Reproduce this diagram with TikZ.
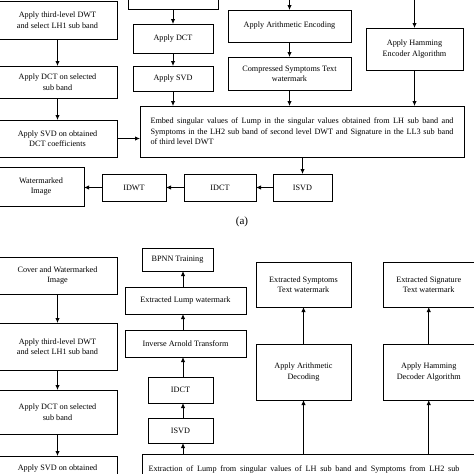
\documentclass[tikz,border=0pt]{standalone}
\usepackage{fontspec}
\setmainfont{Liberation Serif}
\usetikzlibrary{arrows.meta,calc}
\tikzset{
  box/.style={draw,line width=0.9pt,inner sep=0pt,outer sep=0pt,align=center,
    font=\fontsize{8.2}{10.5}\selectfont},
  arr/.style={line width=0.9pt,-{Latex[length=5pt,width=4.5pt]}}
}
\newcommand\bx[6]{%
  \pgfmathsetmacro\bxcx{(#2+#4)/2}\pgfmathsetmacro\bxcy{(#3+#5)/2}%
  \pgfmathsetmacro\bxw{#4-#2}\pgfmathsetmacro\bxh{#5-#3}%
  \node[box,minimum width=\bxw pt,minimum height=\bxh pt] (#1) at (\bxcx,\bxcy) {#6};}
\begin{document}
\begin{tikzpicture}[x=1pt,y=-1pt]
\useasboundingbox (0,0) rectangle (474,474);
\clip (0,0) rectangle (474,474);
\fill[white] (0,0) rectangle (474,474);
% ---------- part (a) ----------
\bx{A1}{-2}{1}{117}{39}{Apply third-level DWT\\and select LH1 sub band}
\bx{A2}{-2}{66}{117}{98}{Apply DCT on selected\\sub band}
\bx{A3}{-2}{120}{117}{157}{Apply SVD on obtained\\DCT coefficients}
\bx{M0}{128}{-10}{218}{9}{}
\bx{M1}{133}{24}{213}{53}{Apply DCT}
\bx{M2}{133}{66}{213}{91}{Apply SVD}
\bx{R1}{228}{10}{351}{42}{Apply Arithmetic Encoding}
\bx{R2}{228}{57}{351}{90}{Compressed Symptoms Text\\watermark}
\bx{H1}{366}{28}{463}{70}{Apply Hamming\\Encoder Algorithm}
\coordinate (rtop) at (289.5,-2);
\coordinate (htop) at (414.5,-2);
\node[box,minimum width=324pt,minimum height=51pt,text width=303pt,align=justify] (E) at (302,131.5)
  {Embed singular values of Lump in the singular values obtained from LH sub band and\linebreak
   Symptoms in the LH2 sub band of second level DWT and Signature in the LL3 sub band\linebreak
   of third level DWT};
\bx{ISVD}{273}{174}{332}{201}{ISVD}
\bx{IDCT}{184}{174}{256}{201}{IDCT}
\bx{IDWT}{102}{174}{166}{201}{IDWT}
\bx{WI}{-2}{167}{84}{206}{Watermarked\\Image}
\node[font=\fontsize{11}{13}\selectfont] (cap) at (242,222) {(a)};

\draw[arr] (A1.south) -- (A2.north);
\draw[arr] (A2.south) -- (A3.north);
\draw[arr] (A3.east) -- (A3.east -| E.west);
\draw[arr] (M0.south) -- (M1.north);
\draw[arr] (M1.south) -- (M2.north);
\draw[arr] (M2.south) -- (M2.south |- E.north);
\draw[arr] (rtop) -- (R1.north);
\draw[arr] (R1.south) -- (R2.north);
\draw[arr] (R2.south) -- (R2.south |- E.north);
\draw[arr] (htop) -- (H1.north);
\draw[arr] (H1.south) -- (H1.south |- E.north);
\draw[arr] (ISVD.north |- E.south) -- (ISVD.north);
\draw[arr] (ISVD.west) -- (IDCT.east);
\draw[arr] (IDCT.west) -- (IDWT.east);
\draw[arr] (IDWT.west) -- (IDWT.west -| WI.east);
% ---------- part (b) ----------
\bx{B1}{-2}{257}{117}{294}{Cover and Watermarked\\Image}
\bx{B2}{-2}{323}{117}{370}{Apply third-level DWT\\and select LH1 sub band}
\bx{B3}{-2}{390}{117}{434}{Apply DCT on selected\\sub band}
\bx{B4}{-2}{456}{117}{482}{Apply SVD on obtained}
\bx{BP}{142}{248}{213}{271}{BPNN Training}
\bx{EL}{125}{287}{246}{314}{Extracted Lump watermark}
\bx{IA}{125}{330}{246}{357}{Inverse Arnold Transform}
\bx{ID}{148}{377}{213}{403}{IDCT}
\bx{IS}{148}{418}{213}{443}{ISVD}
\bx{EX}{142}{454}{480}{484}{\hbox to 311pt{Extraction of Lump from singular values of LH sub band and Symptoms from LH2 sub}\hspace*{14pt}}
\bx{ES}{256}{262}{351}{307}{Extracted Symptoms\\Text watermark}
\bx{SG}{383}{262}{474.5}{307}{Extracted Signature\\Text watermark}
\bx{AD}{256}{344}{351}{400}{Apply Arithmetic\\Decoding}
\bx{HD}{383}{344}{474.5}{400}{Apply Hamming\\Decoder Algorithm}
\coordinate (colx) at (183,0);

\draw[arr] (B1.south) -- (B2.north);
\draw[arr] (B2.south) -- (B3.north);
\draw[arr] (B3.south) -- (B4.north);
\draw[arr] (colx |- EX.north) -- (colx |- IS.south);
\draw[arr] (colx |- IS.north) -- (colx |- ID.south);
\draw[arr] (colx |- ID.north) -- (colx |- IA.south);
\draw[arr] (colx |- IA.north) -- (colx |- EL.south);
\draw[arr] (colx |- EL.north) -- (colx |- BP.south);
\draw[arr] (AD.south |- EX.north) -- (AD.south);
\draw[arr] (AD.north) -- (ES.south);
\draw[arr] (HD.south |- EX.north) -- (HD.south);
\draw[arr] (HD.north) -- (SG.south);
\end{tikzpicture}
\end{document}
